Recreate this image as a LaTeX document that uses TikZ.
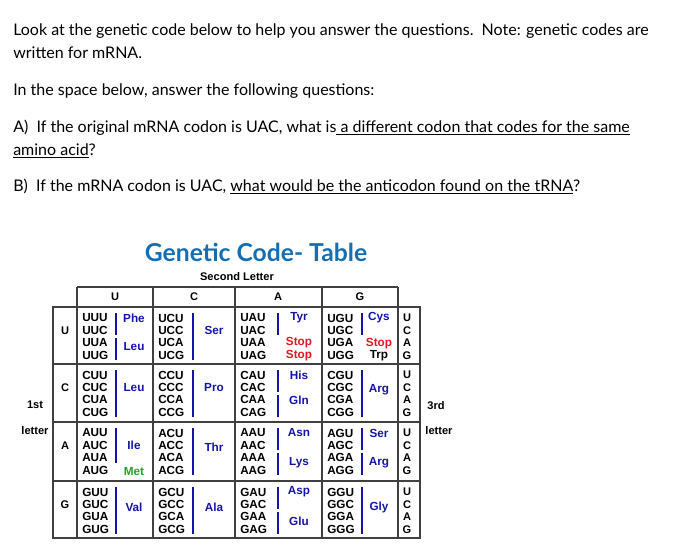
\documentclass[tikz,border=0pt]{standalone}
\usepackage{fontspec}
\setmainfont{Lato}
\newfontfamily\arialf{Liberation Sans}
\definecolor{aablue}{RGB}{20,20,170}
\definecolor{titleblue}{RGB}{20,110,180}
\definecolor{stopred}{RGB}{230,20,30}
\definecolor{metgreen}{RGB}{40,160,40}
\begin{document}
\begin{tikzpicture}[x=0.75pt,y=-0.75pt,
  qtext/.style={anchor=base west,inner sep=0pt,font=\fontsize{12}{14}\selectfont},
  cod/.style={anchor=west,inner sep=0pt,font=\arialf\bfseries\fontsize{8.8}{9}\selectfont},
  aa/.style={inner sep=0pt,font=\arialf\bfseries\fontsize{8.8}{9}\selectfont,text=aablue},
  lbl/.style={inner sep=0pt,font=\arialf\bfseries\fontsize{8.3}{9}\selectfont},
  grid/.style={draw=black!75,line width=0.8pt},
  bar/.style={draw=aablue,line width=1.4pt}]
\useasboundingbox (0,0) rectangle (680,557);
% questions
\node[qtext] (q1) at (13,35) {Look at the genetic code below to help you answer the questions.\ \ Note: genetic codes are};
\node[qtext] (q2) at (13,58) {written for mRNA.};
\node[qtext] (q3) at (13,95) {In the space below, answer the following questions:};
\node[qtext] (q4) at (13,132) {A)\ \ If the original mRNA codon is UAC, what is\underline{ a different codon that codes for the same}};
\node[qtext] (q5) at (13,155) {\underline{amino acid}?};
\node[qtext] (q6) at (13,191) {B)\ \ If the mRNA codon is UAC, \underline{what would be the anticodon found on the tRNA}?};
% title
\node[font=\fontsize{18.5}{20}\selectfont\bfseries,text=titleblue,inner sep=0pt] (title) at (256,252) {Genetic Code- Table};
\node[lbl] (second) at (237,277) {Second Letter};
\node[lbl] (first1) at (35,405) {1st};
\node[lbl] (first2) at (35,431) {letter};
\node[lbl] (third1) at (436,406) {3rd};
\node[lbl] (third2) at (439,431) {letter};
% grid
\draw[grid] (77,287) -- (398,287);
\draw[grid] (53,307) rectangle (420,538);
\foreach \x in {77,153,235,322,398} \draw[grid] (\x,287) -- (\x,538);
\foreach \y in {364,422,481} \draw[grid] (53,\y) -- (420,\y);
% header
\foreach \l/\x in {U/115,C/194,A/278,G/360} \node[lbl] (h\l) at (\x,297) {\l};
% codons
\foreach \b/\top in {U/307,C/364,A/422,G/481}{
  \node[lbl] (f\b) at (65,\top+23.5) {\b};
  \foreach \c/\cx in {U/82,C/158,A/240,G/327}{
    \foreach \t/\i in {U/0,C/1,A/2,G/3}{
      \node[cod] (c\b\c\t) at (\cx,\top+11+12.4*\i) {\b\c\t};
    }
  }
  \foreach \t/\i in {U/0,C/1,A/2,G/3} \node[lbl] (t\b\t) at (407,\top+11+12.4*\i) {\t};
}
\newcommand\aaat[4]{\node[aa,#4] at (#1,#2) {#3};}
\newcommand\barat[3]{\draw[bar] (#1,#2-5) -- (#1,#3+5);}
% U block
\aaat{134}{318}{Phe}{} \barat{116}{318}{330.4}
\aaat{134}{347}{Leu}{} \barat{116}{342.8}{355.2}
\aaat{214}{330.4}{Ser}{} \barat{193}{318}{355.2}
\aaat{299}{318}{Tyr}{} \barat{278}{318}{330.4}
\aaat{299}{342.8}{Stop}{text=stopred} \aaat{299}{355.2}{Stop}{text=stopred}
\aaat{379}{318}{Cys}{} \barat{362}{318}{330.4}
\aaat{379}{343.5}{Stop}{text=stopred} \aaat{379}{355.2}{Trp}{text=black}
% C block
\aaat{134}{387.4}{Leu}{} \barat{116}{375}{412.2}
\aaat{214}{387.4}{Pro}{} \barat{193}{375}{412.2}
\aaat{299}{375}{His}{} \barat{278}{375}{387.4}
\aaat{299}{399.8}{Gln}{} \barat{278}{399.8}{412.2}
\aaat{379}{390}{Arg}{} \barat{362}{375}{412.2}
% A block
\aaat{134}{445.4}{Ile}{} \barat{116}{433}{457.8}
\aaat{134}{472}{Met}{text=metgreen}
\aaat{214}{447.5}{Thr}{} \barat{193}{433}{470.2}
\aaat{299}{433}{Asn}{} \barat{278}{433}{445.4}
\aaat{299}{462.5}{Lys}{} \barat{278}{457.8}{470.2}
\aaat{379}{433}{Ser}{} \barat{362}{433}{445.4}
\aaat{379}{462.5}{Arg}{} \barat{362}{457.8}{470.2}
% G block
\aaat{134}{507}{Val}{} \barat{116}{492}{529.2}
\aaat{214}{507}{Ala}{} \barat{193}{492}{529.2}
\aaat{299}{492}{Asp}{} \barat{278}{492}{504.4}
\aaat{299}{521.5}{Glu}{} \barat{278}{516.8}{529.2}
\aaat{379}{507}{Gly}{} \barat{362}{492}{529.2}
\end{tikzpicture}
\end{document}
